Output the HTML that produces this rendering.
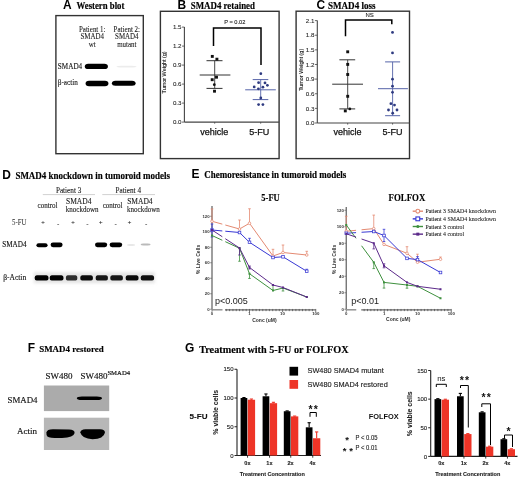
<!DOCTYPE html>
<html><head><meta charset="utf-8"><title>SMAD4 figure</title>
<style>html,body{margin:0;padding:0;background:#fff;} svg{display:block;}</style>
</head><body>
<svg width="520" height="477" viewBox="0 0 520 477"><defs>
<filter id="b1" x="-20%" y="-100%" width="140%" height="300%"><feGaussianBlur stdDeviation="0.7"/></filter>
<filter id="b15" x="-20%" y="-100%" width="140%" height="300%"><feGaussianBlur stdDeviation="0.9"/></filter>
<filter id="b2" x="-20%" y="-100%" width="140%" height="300%"><feGaussianBlur stdDeviation="1.5"/></filter>
</defs><text transform="translate(63.04,9.10) scale(0.920,1)" font-family="'Liberation Sans', Arial, sans-serif" font-size="13.00" font-weight="bold" fill="#000">A</text>
<text transform="translate(76.50,8.60) scale(1,1.1)" font-family="'Liberation Serif', serif" font-size="8.77" font-weight="bold" fill="#000" stroke="#000" stroke-width="0.15">Western blot</text>
<rect x="55.90" y="15.60" width="87.40" height="138.10" fill="none" stroke="#333" stroke-width="1.4" />
<text transform="translate(92.20,31.60) scale(1,1.06)" font-family="'Liberation Serif', serif" font-size="6.95" font-weight="normal" text-anchor="middle" fill="#1a1a1a" stroke="#1a1a1a" stroke-width="0.08" >Patient 1:</text>
<text transform="translate(92.20,39.30) scale(1,1.06)" font-family="'Liberation Serif', serif" font-size="6.95" font-weight="normal" text-anchor="middle" fill="#1a1a1a" stroke="#1a1a1a" stroke-width="0.08" >SMAD4</text>
<text transform="translate(92.20,47.00) scale(1,1.06)" font-family="'Liberation Serif', serif" font-size="6.95" font-weight="normal" text-anchor="middle" fill="#1a1a1a" stroke="#1a1a1a" stroke-width="0.08" >wt</text>
<text transform="translate(126.80,31.60) scale(1,1.06)" font-family="'Liberation Serif', serif" font-size="6.95" font-weight="normal" text-anchor="middle" fill="#1a1a1a" stroke="#1a1a1a" stroke-width="0.08" >Patient 2:</text>
<text transform="translate(126.80,39.30) scale(1,1.06)" font-family="'Liberation Serif', serif" font-size="6.95" font-weight="normal" text-anchor="middle" fill="#1a1a1a" stroke="#1a1a1a" stroke-width="0.08" >SMAD4</text>
<text transform="translate(126.80,47.00) scale(1,1.06)" font-family="'Liberation Serif', serif" font-size="6.95" font-weight="normal" text-anchor="middle" fill="#1a1a1a" stroke="#1a1a1a" stroke-width="0.08" >mutant</text>
<text x="57.80" y="68.80" font-family="'Liberation Serif', serif" font-size="7.2" font-weight="normal" text-anchor="start" fill="#111" stroke="#111" stroke-width="0.1" >SMAD4</text>
<text x="57.80" y="85.30" font-family="'Liberation Serif', serif" font-size="7.2" font-weight="normal" text-anchor="start" fill="#111" stroke="#111" stroke-width="0.1" >β-actin</text>
<rect x="84.80" y="63.70" width="23.10" height="5.40" rx="3.47" ry="2.70" fill="#000" opacity="1" filter="url(#b1)"/>
<rect x="116.50" y="65.80" width="20.00" height="1.80" rx="6.00" ry="0.90" fill="#888" opacity="0.15" filter="url(#b1)"/>
<rect x="85.60" y="80.70" width="22.80" height="5.60" rx="3.42" ry="2.80" fill="#000" opacity="1" filter="url(#b1)"/>
<rect x="111.90" y="80.80" width="23.70" height="5.00" rx="3.55" ry="2.50" fill="#000" opacity="1" filter="url(#b1)"/>
<text transform="translate(177.46,8.90) scale(0.920,1)" font-family="'Liberation Sans', Arial, sans-serif" font-size="13.00" font-weight="bold" fill="#000">B</text>
<text transform="translate(190.80,8.70) scale(1,1.1)" font-family="'Liberation Serif', serif" font-size="8.88" font-weight="bold" fill="#000" stroke="#000" stroke-width="0.15">SMAD4 retained</text>
<rect x="160.40" y="11.30" width="118.70" height="147.30" fill="none" stroke="#333" stroke-width="1.4" />
<line x1="184.40" y1="27.10" x2="184.40" y2="122.10" stroke="#444" stroke-width="1.1" />
<line x1="182.00" y1="122.10" x2="184.40" y2="122.10" stroke="#444" stroke-width="0.8" />
<text x="181.50" y="124.30" font-family="'Liberation Sans', Arial, sans-serif" font-size="6.2" font-weight="normal" text-anchor="end" fill="#222" stroke="#222" stroke-width="0.08" >0.0</text>
<line x1="182.00" y1="103.10" x2="184.40" y2="103.10" stroke="#444" stroke-width="0.8" />
<text x="181.50" y="105.30" font-family="'Liberation Sans', Arial, sans-serif" font-size="6.2" font-weight="normal" text-anchor="end" fill="#222" stroke="#222" stroke-width="0.08" >0.3</text>
<line x1="182.00" y1="84.10" x2="184.40" y2="84.10" stroke="#444" stroke-width="0.8" />
<text x="181.50" y="86.30" font-family="'Liberation Sans', Arial, sans-serif" font-size="6.2" font-weight="normal" text-anchor="end" fill="#222" stroke="#222" stroke-width="0.08" >0.6</text>
<line x1="182.00" y1="65.10" x2="184.40" y2="65.10" stroke="#444" stroke-width="0.8" />
<text x="181.50" y="67.30" font-family="'Liberation Sans', Arial, sans-serif" font-size="6.2" font-weight="normal" text-anchor="end" fill="#222" stroke="#222" stroke-width="0.08" >0.9</text>
<line x1="182.00" y1="46.10" x2="184.40" y2="46.10" stroke="#444" stroke-width="0.8" />
<text x="181.50" y="48.30" font-family="'Liberation Sans', Arial, sans-serif" font-size="6.2" font-weight="normal" text-anchor="end" fill="#222" stroke="#222" stroke-width="0.08" >1.2</text>
<line x1="182.00" y1="27.10" x2="184.40" y2="27.10" stroke="#444" stroke-width="0.8" />
<text x="181.50" y="29.30" font-family="'Liberation Sans', Arial, sans-serif" font-size="6.2" font-weight="normal" text-anchor="end" fill="#222" stroke="#222" stroke-width="0.08" >1.5</text>
<line x1="184.40" y1="122.10" x2="279.10" y2="122.10" stroke="#444" stroke-width="1.1" />
<line x1="214.70" y1="122.10" x2="214.70" y2="123.70" stroke="#444" stroke-width="0.8" />
<text x="214.20" y="135.30" font-family="'Liberation Sans', Arial, sans-serif" font-size="9" font-weight="normal" text-anchor="middle" fill="#111" stroke="#111" stroke-width="0.25" >vehicle</text>
<line x1="260.70" y1="122.10" x2="260.70" y2="123.70" stroke="#444" stroke-width="0.8" />
<text x="259.20" y="135.30" font-family="'Liberation Sans', Arial, sans-serif" font-size="9" font-weight="normal" text-anchor="middle" fill="#111" stroke="#111" stroke-width="0.25" >5-FU</text>
<text transform="translate(166.00,72.40) rotate(-90)" x="0" y="0" font-family="'Liberation Sans', Arial, sans-serif" font-size="5.45" text-anchor="middle" fill="#111" stroke="#111" stroke-width="0.08">Tumor Weight (g)</text>
<path d="M213.5,46 V28.1 H261.0 V65" fill="none" stroke="#000" stroke-width="1.5"/>
<text x="234.80" y="23.90" font-family="'Liberation Sans', Arial, sans-serif" font-size="5.7" font-weight="normal" text-anchor="middle" fill="#222" stroke="#222" stroke-width="0.1" >P = 0.02</text>
<line x1="214.70" y1="60.70" x2="214.70" y2="88.40" stroke="#333" stroke-width="0.9" />
<line x1="199.70" y1="75.00" x2="230.40" y2="75.00" stroke="#333" stroke-width="1.0" />
<line x1="206.50" y1="60.70" x2="222.50" y2="60.70" stroke="#333" stroke-width="1.0" />
<line x1="206.50" y1="88.40" x2="222.50" y2="88.40" stroke="#333" stroke-width="1.0" />
<rect x="210.85" y="54.95" width="2.90" height="2.90" fill="#111" stroke="none" stroke-width="1" />
<rect x="215.45" y="57.75" width="2.90" height="2.90" fill="#111" stroke="none" stroke-width="1" />
<rect x="215.05" y="75.75" width="2.90" height="2.90" fill="#111" stroke="none" stroke-width="1" />
<rect x="210.75" y="78.25" width="2.90" height="2.90" fill="#111" stroke="none" stroke-width="1" />
<circle cx="214.30" cy="84.70" r="1.4" fill="#111"/>
<rect x="213.05" y="89.75" width="2.90" height="2.90" fill="#111" stroke="none" stroke-width="1" />
<line x1="260.70" y1="79.60" x2="260.70" y2="99.60" stroke="#5563a8" stroke-width="0.9" />
<line x1="245.20" y1="89.80" x2="275.80" y2="89.80" stroke="#5563a8" stroke-width="1.0" />
<line x1="252.70" y1="79.60" x2="268.30" y2="79.60" stroke="#5563a8" stroke-width="1.0" />
<line x1="252.70" y1="99.60" x2="268.30" y2="99.60" stroke="#5563a8" stroke-width="1.0" />
<circle cx="260.80" cy="73.70" r="1.4" fill="#2e3a80"/>
<circle cx="258.60" cy="82.70" r="1.4" fill="#2e3a80"/>
<circle cx="265.00" cy="82.90" r="1.4" fill="#2e3a80"/>
<circle cx="267.40" cy="85.30" r="1.4" fill="#2e3a80"/>
<circle cx="254.20" cy="86.90" r="1.4" fill="#2e3a80"/>
<circle cx="262.90" cy="87.20" r="1.4" fill="#2e3a80"/>
<circle cx="258.40" cy="88.80" r="1.4" fill="#2e3a80"/>
<circle cx="260.80" cy="98.00" r="1.4" fill="#2e3a80"/>
<circle cx="258.60" cy="104.60" r="1.4" fill="#2e3a80"/>
<circle cx="262.90" cy="104.60" r="1.4" fill="#2e3a80"/>
<text transform="translate(316.62,9.00) scale(0.920,1)" font-family="'Liberation Sans', Arial, sans-serif" font-size="13.00" font-weight="bold" fill="#000">C</text>
<text transform="translate(328.00,8.50) scale(1,1.1)" font-family="'Liberation Serif', serif" font-size="9.07" font-weight="bold" fill="#000" stroke="#000" stroke-width="0.15">SMAD4 loss</text>
<rect x="296.10" y="11.20" width="113.40" height="147.40" fill="none" stroke="#333" stroke-width="1.4" />
<line x1="317.30" y1="20.60" x2="317.30" y2="123.00" stroke="#444" stroke-width="1.1" />
<line x1="314.90" y1="123.00" x2="317.30" y2="123.00" stroke="#444" stroke-width="0.8" />
<text x="314.40" y="125.20" font-family="'Liberation Sans', Arial, sans-serif" font-size="6.2" font-weight="normal" text-anchor="end" fill="#222" stroke="#222" stroke-width="0.08" >0.0</text>
<line x1="314.90" y1="108.37" x2="317.30" y2="108.37" stroke="#444" stroke-width="0.8" />
<text x="314.40" y="110.57" font-family="'Liberation Sans', Arial, sans-serif" font-size="6.2" font-weight="normal" text-anchor="end" fill="#222" stroke="#222" stroke-width="0.08" >0.3</text>
<line x1="314.90" y1="93.74" x2="317.30" y2="93.74" stroke="#444" stroke-width="0.8" />
<text x="314.40" y="95.94" font-family="'Liberation Sans', Arial, sans-serif" font-size="6.2" font-weight="normal" text-anchor="end" fill="#222" stroke="#222" stroke-width="0.08" >0.6</text>
<line x1="314.90" y1="79.11" x2="317.30" y2="79.11" stroke="#444" stroke-width="0.8" />
<text x="314.40" y="81.31" font-family="'Liberation Sans', Arial, sans-serif" font-size="6.2" font-weight="normal" text-anchor="end" fill="#222" stroke="#222" stroke-width="0.08" >0.9</text>
<line x1="314.90" y1="64.49" x2="317.30" y2="64.49" stroke="#444" stroke-width="0.8" />
<text x="314.40" y="66.69" font-family="'Liberation Sans', Arial, sans-serif" font-size="6.2" font-weight="normal" text-anchor="end" fill="#222" stroke="#222" stroke-width="0.08" >1.2</text>
<line x1="314.90" y1="49.86" x2="317.30" y2="49.86" stroke="#444" stroke-width="0.8" />
<text x="314.40" y="52.06" font-family="'Liberation Sans', Arial, sans-serif" font-size="6.2" font-weight="normal" text-anchor="end" fill="#222" stroke="#222" stroke-width="0.08" >1.5</text>
<line x1="314.90" y1="35.23" x2="317.30" y2="35.23" stroke="#444" stroke-width="0.8" />
<text x="314.40" y="37.43" font-family="'Liberation Sans', Arial, sans-serif" font-size="6.2" font-weight="normal" text-anchor="end" fill="#222" stroke="#222" stroke-width="0.08" >1.8</text>
<line x1="314.90" y1="20.60" x2="317.30" y2="20.60" stroke="#444" stroke-width="0.8" />
<text x="314.40" y="22.80" font-family="'Liberation Sans', Arial, sans-serif" font-size="6.2" font-weight="normal" text-anchor="end" fill="#222" stroke="#222" stroke-width="0.08" >2.1</text>
<line x1="317.30" y1="123.00" x2="409.50" y2="123.00" stroke="#444" stroke-width="1.1" />
<line x1="347.70" y1="123.00" x2="347.70" y2="124.60" stroke="#444" stroke-width="0.8" />
<text x="347.50" y="135.30" font-family="'Liberation Sans', Arial, sans-serif" font-size="9" font-weight="normal" text-anchor="middle" fill="#111" stroke="#111" stroke-width="0.25" >vehicle</text>
<line x1="392.60" y1="123.00" x2="392.60" y2="124.60" stroke="#444" stroke-width="0.8" />
<text x="392.60" y="135.30" font-family="'Liberation Sans', Arial, sans-serif" font-size="9" font-weight="normal" text-anchor="middle" fill="#111" stroke="#111" stroke-width="0.25" >5-FU</text>
<text transform="translate(302.70,69.80) rotate(-90)" x="0" y="0" font-family="'Liberation Sans', Arial, sans-serif" font-size="5.45" text-anchor="middle" fill="#111" stroke="#111" stroke-width="0.08">Tumor Weight (g)</text>
<path d="M345.5,36.3 V20.0 H391.8 V24.3" fill="none" stroke="#000" stroke-width="1.5"/>
<text x="369.70" y="17.10" font-family="'Liberation Sans', Arial, sans-serif" font-size="6.0" font-weight="normal" text-anchor="middle" fill="#222" stroke="#222" stroke-width="0.1" >NS</text>
<line x1="347.70" y1="59.80" x2="347.70" y2="108.90" stroke="#333" stroke-width="0.9" />
<line x1="332.20" y1="84.20" x2="363.00" y2="84.20" stroke="#333" stroke-width="1.0" />
<line x1="339.40" y1="59.80" x2="355.20" y2="59.80" stroke="#333" stroke-width="1.0" />
<line x1="339.40" y1="108.90" x2="355.20" y2="108.90" stroke="#333" stroke-width="1.0" />
<rect x="346.25" y="50.35" width="2.90" height="2.90" fill="#111" stroke="none" stroke-width="1" />
<rect x="346.25" y="62.95" width="2.90" height="2.90" fill="#111" stroke="none" stroke-width="1" />
<rect x="346.25" y="73.05" width="2.90" height="2.90" fill="#111" stroke="none" stroke-width="1" />
<rect x="346.25" y="94.85" width="2.90" height="2.90" fill="#111" stroke="none" stroke-width="1" />
<rect x="343.85" y="109.45" width="2.90" height="2.90" fill="#111" stroke="none" stroke-width="1" />
<circle cx="349.80" cy="108.90" r="1.4" fill="#111"/>
<line x1="392.60" y1="61.90" x2="392.60" y2="115.70" stroke="#5563a8" stroke-width="0.9" />
<line x1="378.00" y1="88.70" x2="407.90" y2="88.70" stroke="#5563a8" stroke-width="1.0" />
<line x1="385.10" y1="61.90" x2="400.10" y2="61.90" stroke="#5563a8" stroke-width="1.0" />
<line x1="385.10" y1="115.70" x2="400.10" y2="115.70" stroke="#5563a8" stroke-width="1.0" />
<circle cx="392.50" cy="32.40" r="1.4" fill="#2e3a80"/>
<circle cx="392.50" cy="52.90" r="1.4" fill="#2e3a80"/>
<circle cx="392.50" cy="79.20" r="1.4" fill="#2e3a80"/>
<circle cx="392.50" cy="86.20" r="1.4" fill="#2e3a80"/>
<circle cx="392.50" cy="92.30" r="1.4" fill="#2e3a80"/>
<circle cx="390.90" cy="103.70" r="1.4" fill="#2e3a80"/>
<circle cx="394.50" cy="105.10" r="1.4" fill="#2e3a80"/>
<circle cx="388.50" cy="110.00" r="1.4" fill="#2e3a80"/>
<circle cx="397.00" cy="110.00" r="1.4" fill="#2e3a80"/>
<circle cx="392.70" cy="113.20" r="1.4" fill="#2e3a80"/>
<text transform="translate(2.36,178.60) scale(0.920,1)" font-family="'Liberation Sans', Arial, sans-serif" font-size="13.00" font-weight="bold" fill="#000">D</text>
<text transform="translate(15.40,178.50) scale(1,1.1)" font-family="'Liberation Serif', serif" font-size="8.99" font-weight="bold" fill="#000" stroke="#000" stroke-width="0.15">SMAD4 knockdown in tumoroid models</text>
<text transform="translate(68.60,192.80) scale(1,1.06)" font-family="'Liberation Serif', serif" font-size="7.2" font-weight="normal" text-anchor="middle" fill="#1a1a1a" stroke="#1a1a1a" stroke-width="0.1" >Patient 3</text>
<text transform="translate(128.30,192.80) scale(1,1.06)" font-family="'Liberation Serif', serif" font-size="7.2" font-weight="normal" text-anchor="middle" fill="#1a1a1a" stroke="#1a1a1a" stroke-width="0.1" >Patient 4</text>
<line x1="42.80" y1="194.60" x2="95.00" y2="194.60" stroke="#c4c4c4" stroke-width="0.8" />
<line x1="102.30" y1="194.60" x2="155.00" y2="194.60" stroke="#c4c4c4" stroke-width="0.8" />
<text transform="translate(47.50,208.30) scale(1,1.06)" font-family="'Liberation Serif', serif" font-size="7.05" font-weight="normal" text-anchor="middle" fill="#1a1a1a" stroke="#1a1a1a" stroke-width="0.1" >control</text>
<text x="66.00" y="204.40" font-family="'Liberation Serif', serif" font-size="7.5" font-weight="normal" text-anchor="start" fill="#1a1a1a" stroke="#1a1a1a" stroke-width="0.1" >SMAD4</text>
<text transform="translate(65.80,212.30) scale(1,1.06)" font-family="'Liberation Serif', serif" font-size="7.05" font-weight="normal" text-anchor="start" fill="#1a1a1a" stroke="#1a1a1a" stroke-width="0.1" >knockdown</text>
<text transform="translate(112.60,208.30) scale(1,1.06)" font-family="'Liberation Serif', serif" font-size="7.05" font-weight="normal" text-anchor="middle" fill="#1a1a1a" stroke="#1a1a1a" stroke-width="0.1" >control</text>
<text x="127.20" y="204.40" font-family="'Liberation Serif', serif" font-size="7.5" font-weight="normal" text-anchor="start" fill="#1a1a1a" stroke="#1a1a1a" stroke-width="0.1" >SMAD4</text>
<text transform="translate(127.00,212.30) scale(1,1.06)" font-family="'Liberation Serif', serif" font-size="7.05" font-weight="normal" text-anchor="start" fill="#1a1a1a" stroke="#1a1a1a" stroke-width="0.1" >knockdown</text>
<text transform="translate(12.00,224.60) scale(1,1.15)" font-family="'Liberation Serif', serif" font-size="6.8" font-weight="normal" text-anchor="start" fill="#333" stroke="#333" stroke-width="0.05" >5-FU</text>
<text x="43.00" y="225.00" font-family="'Liberation Serif', serif" font-size="7.0" font-weight="bold" text-anchor="middle" fill="#1a1a1a" >+</text>
<text x="58.25" y="225.80" font-family="'Liberation Serif', serif" font-size="7.0" font-weight="bold" text-anchor="middle" fill="#1a1a1a" >-</text>
<text x="73.00" y="225.00" font-family="'Liberation Serif', serif" font-size="7.0" font-weight="bold" text-anchor="middle" fill="#1a1a1a" >+</text>
<text x="87.50" y="225.80" font-family="'Liberation Serif', serif" font-size="7.0" font-weight="bold" text-anchor="middle" fill="#1a1a1a" >-</text>
<text x="100.75" y="225.00" font-family="'Liberation Serif', serif" font-size="7.0" font-weight="bold" text-anchor="middle" fill="#1a1a1a" >+</text>
<text x="115.75" y="225.80" font-family="'Liberation Serif', serif" font-size="7.0" font-weight="bold" text-anchor="middle" fill="#1a1a1a" >-</text>
<text x="129.50" y="225.00" font-family="'Liberation Serif', serif" font-size="7.0" font-weight="bold" text-anchor="middle" fill="#1a1a1a" >+</text>
<text x="146.25" y="225.80" font-family="'Liberation Serif', serif" font-size="7.0" font-weight="bold" text-anchor="middle" fill="#1a1a1a" >-</text>
<text x="2.20" y="246.80" font-family="'Liberation Serif', serif" font-size="7.2" font-weight="normal" text-anchor="start" fill="#111" stroke="#111" stroke-width="0.12" >SMAD4</text>
<text x="3.20" y="280.20" font-family="'Liberation Serif', serif" font-size="7.5" font-weight="normal" text-anchor="start" fill="#111" stroke="#111" stroke-width="0.12" >β-Actin</text>
<rect x="36.40" y="243.30" width="11.20" height="4.00" rx="2.24" ry="2.00" fill="#000" opacity="1" filter="url(#b1)"/>
<rect x="50.60" y="242.40" width="12.00" height="4.80" rx="2.40" ry="2.40" fill="#000" opacity="1" filter="url(#b1)"/>
<rect x="95.00" y="242.40" width="12.20" height="4.80" rx="2.44" ry="2.40" fill="#000" opacity="1" filter="url(#b1)"/>
<rect x="109.60" y="242.40" width="12.60" height="4.80" rx="2.52" ry="2.40" fill="#000" opacity="1" filter="url(#b1)"/>
<rect x="127.00" y="244.30" width="8.20" height="1.40" rx="2.46" ry="0.70" fill="#777" opacity="0.22" filter="url(#b1)"/>
<rect x="140.60" y="243.50" width="10.00" height="2.00" rx="3.00" ry="1.00" fill="#777" opacity="0.5" filter="url(#b1)"/>
<rect x="33.8" y="272.2" width="121" height="11" fill="#cfcfcf" opacity="0.55" filter="url(#b2)"/>
<rect x="34.60" y="275.30" width="14.00" height="5.20" rx="2.10" ry="2.60" fill="#000" opacity="1" filter="url(#b1)"/>
<rect x="49.60" y="275.30" width="14.00" height="5.20" rx="2.10" ry="2.60" fill="#000" opacity="1" filter="url(#b1)"/>
<rect x="65.80" y="275.30" width="11.60" height="5.20" rx="1.74" ry="2.60" fill="#000" opacity="0.8" filter="url(#b1)"/>
<rect x="80.20" y="275.30" width="12.80" height="5.20" rx="1.92" ry="2.60" fill="#000" opacity="0.95" filter="url(#b1)"/>
<rect x="95.60" y="275.30" width="12.40" height="5.20" rx="1.86" ry="2.60" fill="#000" opacity="0.9" filter="url(#b1)"/>
<rect x="110.20" y="275.30" width="12.80" height="5.20" rx="1.92" ry="2.60" fill="#000" opacity="0.9" filter="url(#b1)"/>
<rect x="125.60" y="275.30" width="13.00" height="5.20" rx="1.95" ry="2.60" fill="#000" opacity="0.95" filter="url(#b1)"/>
<rect x="140.60" y="275.30" width="13.60" height="5.20" rx="2.04" ry="2.60" fill="#000" opacity="0.93" filter="url(#b1)"/>
<text transform="translate(191.46,177.60) scale(0.920,1)" font-family="'Liberation Sans', Arial, sans-serif" font-size="13.00" font-weight="bold" fill="#000">E</text>
<text transform="translate(204.20,177.60) scale(1,1.1)" font-family="'Liberation Serif', serif" font-size="8.99" font-weight="bold" fill="#000" stroke="#000" stroke-width="0.15">Chemoresistance in tumoroid models</text>
<line x1="212.00" y1="206.00" x2="212.00" y2="309.25" stroke="#6a6a6a" stroke-width="1.3" />
<line x1="210.20" y1="309.25" x2="212.00" y2="309.25" stroke="#6a6a6a" stroke-width="0.8" />
<text x="209.60" y="310.75" font-family="'Liberation Sans', Arial, sans-serif" font-size="4.3" font-weight="bold" text-anchor="end" fill="#333" >0</text>
<line x1="210.20" y1="293.75" x2="212.00" y2="293.75" stroke="#6a6a6a" stroke-width="0.8" />
<text x="209.60" y="295.25" font-family="'Liberation Sans', Arial, sans-serif" font-size="4.3" font-weight="bold" text-anchor="end" fill="#333" >20</text>
<line x1="210.20" y1="278.25" x2="212.00" y2="278.25" stroke="#6a6a6a" stroke-width="0.8" />
<text x="209.60" y="279.75" font-family="'Liberation Sans', Arial, sans-serif" font-size="4.3" font-weight="bold" text-anchor="end" fill="#333" >40</text>
<line x1="210.20" y1="262.75" x2="212.00" y2="262.75" stroke="#6a6a6a" stroke-width="0.8" />
<text x="209.60" y="264.25" font-family="'Liberation Sans', Arial, sans-serif" font-size="4.3" font-weight="bold" text-anchor="end" fill="#333" >60</text>
<line x1="210.20" y1="247.25" x2="212.00" y2="247.25" stroke="#6a6a6a" stroke-width="0.8" />
<text x="209.60" y="248.75" font-family="'Liberation Sans', Arial, sans-serif" font-size="4.3" font-weight="bold" text-anchor="end" fill="#333" >80</text>
<line x1="210.20" y1="231.75" x2="212.00" y2="231.75" stroke="#6a6a6a" stroke-width="0.8" />
<text x="209.60" y="233.25" font-family="'Liberation Sans', Arial, sans-serif" font-size="4.3" font-weight="bold" text-anchor="end" fill="#333" >100</text>
<line x1="210.20" y1="216.25" x2="212.00" y2="216.25" stroke="#6a6a6a" stroke-width="0.8" />
<text x="209.60" y="217.75" font-family="'Liberation Sans', Arial, sans-serif" font-size="4.3" font-weight="bold" text-anchor="end" fill="#333" >120</text>
<line x1="212.00" y1="309.85" x2="222.50" y2="309.85" stroke="#6a6a6a" stroke-width="1.1" />
<line x1="225.00" y1="309.85" x2="315.75" y2="309.85" stroke="#6a6a6a" stroke-width="1.1" />
<line x1="226.31" y1="308.95" x2="226.31" y2="311.15" stroke="#555" stroke-width="0.8" />
<line x1="229.62" y1="308.95" x2="229.62" y2="311.15" stroke="#555" stroke-width="0.8" />
<line x1="232.94" y1="308.95" x2="232.94" y2="311.15" stroke="#555" stroke-width="0.8" />
<line x1="236.25" y1="308.95" x2="236.25" y2="311.15" stroke="#555" stroke-width="0.8" />
<line x1="239.56" y1="308.95" x2="239.56" y2="311.15" stroke="#555" stroke-width="0.8" />
<line x1="242.88" y1="308.95" x2="242.88" y2="311.15" stroke="#555" stroke-width="0.8" />
<line x1="246.19" y1="308.95" x2="246.19" y2="311.15" stroke="#555" stroke-width="0.8" />
<line x1="249.50" y1="308.95" x2="249.50" y2="312.05" stroke="#555" stroke-width="0.8" />
<line x1="252.81" y1="308.95" x2="252.81" y2="311.15" stroke="#555" stroke-width="0.8" />
<line x1="256.12" y1="308.95" x2="256.12" y2="311.15" stroke="#555" stroke-width="0.8" />
<line x1="259.44" y1="308.95" x2="259.44" y2="311.15" stroke="#555" stroke-width="0.8" />
<line x1="262.75" y1="308.95" x2="262.75" y2="311.15" stroke="#555" stroke-width="0.8" />
<line x1="266.06" y1="308.95" x2="266.06" y2="311.15" stroke="#555" stroke-width="0.8" />
<line x1="269.38" y1="308.95" x2="269.38" y2="311.15" stroke="#555" stroke-width="0.8" />
<line x1="272.69" y1="308.95" x2="272.69" y2="311.15" stroke="#555" stroke-width="0.8" />
<line x1="276.00" y1="308.95" x2="276.00" y2="311.15" stroke="#555" stroke-width="0.8" />
<line x1="279.31" y1="308.95" x2="279.31" y2="311.15" stroke="#555" stroke-width="0.8" />
<line x1="282.62" y1="308.95" x2="282.62" y2="312.05" stroke="#555" stroke-width="0.8" />
<line x1="285.94" y1="308.95" x2="285.94" y2="311.15" stroke="#555" stroke-width="0.8" />
<line x1="289.25" y1="308.95" x2="289.25" y2="311.15" stroke="#555" stroke-width="0.8" />
<line x1="292.56" y1="308.95" x2="292.56" y2="311.15" stroke="#555" stroke-width="0.8" />
<line x1="295.88" y1="308.95" x2="295.88" y2="311.15" stroke="#555" stroke-width="0.8" />
<line x1="299.19" y1="308.95" x2="299.19" y2="311.15" stroke="#555" stroke-width="0.8" />
<line x1="302.50" y1="308.95" x2="302.50" y2="311.15" stroke="#555" stroke-width="0.8" />
<line x1="305.81" y1="308.95" x2="305.81" y2="311.15" stroke="#555" stroke-width="0.8" />
<line x1="309.12" y1="308.95" x2="309.12" y2="311.15" stroke="#555" stroke-width="0.8" />
<line x1="312.44" y1="308.95" x2="312.44" y2="311.15" stroke="#555" stroke-width="0.8" />
<line x1="315.75" y1="308.95" x2="315.75" y2="312.05" stroke="#555" stroke-width="0.8" />
<line x1="212.00" y1="309.85" x2="212.00" y2="311.85" stroke="#6a6a6a" stroke-width="0.8" />
<text x="212.00" y="315.30" font-family="'Liberation Sans', Arial, sans-serif" font-size="4.3" font-weight="bold" text-anchor="middle" fill="#333" >0</text>
<text x="249.50" y="315.30" font-family="'Liberation Sans', Arial, sans-serif" font-size="4.3" font-weight="bold" text-anchor="middle" fill="#333" >1</text>
<text x="282.50" y="315.30" font-family="'Liberation Sans', Arial, sans-serif" font-size="4.3" font-weight="bold" text-anchor="middle" fill="#333" >10</text>
<text x="315.75" y="315.30" font-family="'Liberation Sans', Arial, sans-serif" font-size="4.3" font-weight="bold" text-anchor="middle" fill="#333" >100</text>
<text x="264.40" y="322.20" font-family="'Liberation Sans', Arial, sans-serif" font-size="5.0" font-weight="bold" text-anchor="middle" fill="#333" >Conc (uM)</text>
<text transform="translate(200.40,259.40) rotate(-90)" x="0" y="0" font-family="'Liberation Sans', Arial, sans-serif" font-size="5.0" font-weight="bold" text-anchor="middle" fill="#333">% Live Cells</text>
<text transform="translate(270.50,201.00) scale(1,1.12)" font-family="'Liberation Serif', serif" font-size="8.5" font-weight="bold" text-anchor="middle" fill="#000" stroke="#000" stroke-width="0.12" >5-FU</text>
<text x="215.00" y="303.90" font-family="'Liberation Sans', Arial, sans-serif" font-size="9.0" font-weight="normal" text-anchor="start" fill="#222" >p&lt;0.005</text>
<line x1="212.00" y1="221.25" x2="212.00" y2="208.95" stroke="#e48a72" stroke-width="0.8" />
<line x1="210.70" y1="208.95" x2="213.30" y2="208.95" stroke="#e48a72" stroke-width="0.8" />
<line x1="239.50" y1="229.00" x2="239.50" y2="220.00" stroke="#e48a72" stroke-width="0.8" />
<line x1="238.20" y1="220.00" x2="240.80" y2="220.00" stroke="#e48a72" stroke-width="0.8" />
<line x1="249.50" y1="223.25" x2="249.50" y2="208.75" stroke="#e48a72" stroke-width="0.8" />
<line x1="248.20" y1="208.75" x2="250.80" y2="208.75" stroke="#e48a72" stroke-width="0.8" />
<line x1="273.00" y1="256.00" x2="273.00" y2="249.30" stroke="#e48a72" stroke-width="0.8" />
<line x1="271.70" y1="249.30" x2="274.30" y2="249.30" stroke="#e48a72" stroke-width="0.8" />
<line x1="283.00" y1="252.50" x2="283.00" y2="245.00" stroke="#e48a72" stroke-width="0.8" />
<line x1="281.70" y1="245.00" x2="284.30" y2="245.00" stroke="#e48a72" stroke-width="0.8" />
<line x1="306.75" y1="255.00" x2="306.75" y2="251.30" stroke="#e48a72" stroke-width="0.8" />
<line x1="305.45" y1="251.30" x2="308.05" y2="251.30" stroke="#e48a72" stroke-width="0.8" />
<path d="M212.00,221.25 L222.30,224.15 M225.30,225.00 L239.50,229.00" fill="none" stroke="#e48a72" stroke-width="1.0"/>
<path d="M239.50,229.00 L249.50,223.25 L273.00,256.00 L283.00,252.50 L306.75,255.00" fill="none" stroke="#e48a72" stroke-width="1.0"/>
<circle cx="212" cy="221.25" r="1.3" fill="white" stroke="#e48a72" stroke-width="0.75"/>
<circle cx="239.5" cy="229" r="1.3" fill="white" stroke="#e48a72" stroke-width="0.75"/>
<circle cx="249.5" cy="223.25" r="1.3" fill="white" stroke="#e48a72" stroke-width="0.75"/>
<circle cx="273" cy="256" r="1.3" fill="white" stroke="#e48a72" stroke-width="0.75"/>
<circle cx="283" cy="252.5" r="1.3" fill="white" stroke="#e48a72" stroke-width="0.75"/>
<circle cx="306.75" cy="255" r="1.3" fill="white" stroke="#e48a72" stroke-width="0.75"/>
<line x1="212.00" y1="230.00" x2="212.00" y2="224.00" stroke="#3838d4" stroke-width="0.8" />
<line x1="210.70" y1="224.00" x2="213.30" y2="224.00" stroke="#3838d4" stroke-width="0.8" />
<line x1="212.00" y1="230.00" x2="212.00" y2="237.00" stroke="#3838d4" stroke-width="0.8" />
<line x1="210.70" y1="237.00" x2="213.30" y2="237.00" stroke="#3838d4" stroke-width="0.8" />
<line x1="249.50" y1="242.30" x2="249.50" y2="238.30" stroke="#3838d4" stroke-width="0.8" />
<line x1="248.20" y1="238.30" x2="250.80" y2="238.30" stroke="#3838d4" stroke-width="0.8" />
<line x1="306.75" y1="271.25" x2="306.75" y2="269.25" stroke="#3838d4" stroke-width="0.8" />
<line x1="305.45" y1="269.25" x2="308.05" y2="269.25" stroke="#3838d4" stroke-width="0.8" />
<path d="M212.00,230.00 L222.30,230.94 M225.30,231.21 L239.50,232.50" fill="none" stroke="#3838d4" stroke-width="1.0"/>
<path d="M239.50,232.50 L249.50,242.30 L273.00,257.50 L283.00,256.80 L306.75,271.25" fill="none" stroke="#3838d4" stroke-width="1.0"/>
<rect x="210.70" y="228.70" width="2.60" height="2.60" fill="white" stroke="#3838d4" stroke-width="0.75" />
<rect x="238.20" y="231.20" width="2.60" height="2.60" fill="white" stroke="#3838d4" stroke-width="0.75" />
<rect x="248.20" y="241.00" width="2.60" height="2.60" fill="white" stroke="#3838d4" stroke-width="0.75" />
<rect x="271.70" y="256.20" width="2.60" height="2.60" fill="white" stroke="#3838d4" stroke-width="0.75" />
<rect x="281.70" y="255.50" width="2.60" height="2.60" fill="white" stroke="#3838d4" stroke-width="0.75" />
<rect x="305.45" y="269.95" width="2.60" height="2.60" fill="white" stroke="#3838d4" stroke-width="0.75" />
<line x1="239.50" y1="248.25" x2="239.50" y2="261.25" stroke="#3e903e" stroke-width="0.8" />
<line x1="238.20" y1="261.25" x2="240.80" y2="261.25" stroke="#3e903e" stroke-width="0.8" />
<line x1="249.50" y1="273.75" x2="249.50" y2="278.45" stroke="#3e903e" stroke-width="0.8" />
<line x1="248.20" y1="278.45" x2="250.80" y2="278.45" stroke="#3e903e" stroke-width="0.8" />
<line x1="273.00" y1="290.50" x2="273.00" y2="285.50" stroke="#3e903e" stroke-width="0.8" />
<line x1="271.70" y1="285.50" x2="274.30" y2="285.50" stroke="#3e903e" stroke-width="0.8" />
<line x1="283.00" y1="288.00" x2="283.00" y2="291.00" stroke="#3e903e" stroke-width="0.8" />
<line x1="281.70" y1="291.00" x2="284.30" y2="291.00" stroke="#3e903e" stroke-width="0.8" />
<path d="M212.00,235.50 L222.30,240.28 M225.30,241.67 L239.50,248.25" fill="none" stroke="#3e903e" stroke-width="1.0"/>
<path d="M239.50,248.25 L249.50,273.75 L273.00,290.50 L283.00,288.00 L306.75,297.00" fill="none" stroke="#3e903e" stroke-width="1.0"/>
<rect x="211.00" y="234.50" width="2.00" height="2.00" fill="#3e903e" stroke="none" stroke-width="1" />
<rect x="238.50" y="247.25" width="2.00" height="2.00" fill="#3e903e" stroke="none" stroke-width="1" />
<rect x="248.50" y="272.75" width="2.00" height="2.00" fill="#3e903e" stroke="none" stroke-width="1" />
<rect x="272.00" y="289.50" width="2.00" height="2.00" fill="#3e903e" stroke="none" stroke-width="1" />
<rect x="282.00" y="287.00" width="2.00" height="2.00" fill="#3e903e" stroke="none" stroke-width="1" />
<rect x="305.75" y="296.00" width="2.00" height="2.00" fill="#3e903e" stroke="none" stroke-width="1" />
<line x1="239.50" y1="248.00" x2="239.50" y2="255.00" stroke="#5c2a8a" stroke-width="0.8" />
<line x1="238.20" y1="255.00" x2="240.80" y2="255.00" stroke="#5c2a8a" stroke-width="0.8" />
<line x1="249.50" y1="267.50" x2="249.50" y2="266.00" stroke="#5c2a8a" stroke-width="0.8" />
<line x1="248.20" y1="266.00" x2="250.80" y2="266.00" stroke="#5c2a8a" stroke-width="0.8" />
<line x1="249.50" y1="267.50" x2="249.50" y2="269.00" stroke="#5c2a8a" stroke-width="0.8" />
<line x1="248.20" y1="269.00" x2="250.80" y2="269.00" stroke="#5c2a8a" stroke-width="0.8" />
<path d="M212.00,230.00 L222.30,236.74 M225.30,238.71 L239.50,248.00" fill="none" stroke="#5c2a8a" stroke-width="1.0"/>
<path d="M239.50,248.00 L249.50,267.50 L273.00,285.00 L283.00,287.50 L306.75,297.00" fill="none" stroke="#5c2a8a" stroke-width="1.0"/>
<rect x="211.00" y="229.00" width="2.00" height="2.00" fill="#5c2a8a" stroke="none" stroke-width="1" />
<rect x="238.50" y="247.00" width="2.00" height="2.00" fill="#5c2a8a" stroke="none" stroke-width="1" />
<rect x="248.50" y="266.50" width="2.00" height="2.00" fill="#5c2a8a" stroke="none" stroke-width="1" />
<rect x="272.00" y="284.00" width="2.00" height="2.00" fill="#5c2a8a" stroke="none" stroke-width="1" />
<rect x="282.00" y="286.50" width="2.00" height="2.00" fill="#5c2a8a" stroke="none" stroke-width="1" />
<rect x="305.75" y="296.00" width="2.00" height="2.00" fill="#5c2a8a" stroke="none" stroke-width="1" />
<line x1="346.25" y1="207.00" x2="346.25" y2="309.25" stroke="#6a6a6a" stroke-width="1.3" />
<line x1="344.45" y1="309.25" x2="346.25" y2="309.25" stroke="#6a6a6a" stroke-width="0.8" />
<text x="343.85" y="310.75" font-family="'Liberation Sans', Arial, sans-serif" font-size="4.3" font-weight="bold" text-anchor="end" fill="#333" >0</text>
<line x1="344.45" y1="292.75" x2="346.25" y2="292.75" stroke="#6a6a6a" stroke-width="0.8" />
<text x="343.85" y="294.25" font-family="'Liberation Sans', Arial, sans-serif" font-size="4.3" font-weight="bold" text-anchor="end" fill="#333" >20</text>
<line x1="344.45" y1="276.25" x2="346.25" y2="276.25" stroke="#6a6a6a" stroke-width="0.8" />
<text x="343.85" y="277.75" font-family="'Liberation Sans', Arial, sans-serif" font-size="4.3" font-weight="bold" text-anchor="end" fill="#333" >40</text>
<line x1="344.45" y1="259.75" x2="346.25" y2="259.75" stroke="#6a6a6a" stroke-width="0.8" />
<text x="343.85" y="261.25" font-family="'Liberation Sans', Arial, sans-serif" font-size="4.3" font-weight="bold" text-anchor="end" fill="#333" >60</text>
<line x1="344.45" y1="243.25" x2="346.25" y2="243.25" stroke="#6a6a6a" stroke-width="0.8" />
<text x="343.85" y="244.75" font-family="'Liberation Sans', Arial, sans-serif" font-size="4.3" font-weight="bold" text-anchor="end" fill="#333" >80</text>
<line x1="344.45" y1="226.75" x2="346.25" y2="226.75" stroke="#6a6a6a" stroke-width="0.8" />
<text x="343.85" y="228.25" font-family="'Liberation Sans', Arial, sans-serif" font-size="4.3" font-weight="bold" text-anchor="end" fill="#333" >100</text>
<line x1="344.45" y1="210.25" x2="346.25" y2="210.25" stroke="#6a6a6a" stroke-width="0.8" />
<text x="343.85" y="211.75" font-family="'Liberation Sans', Arial, sans-serif" font-size="4.3" font-weight="bold" text-anchor="end" fill="#333" >120</text>
<line x1="346.25" y1="309.85" x2="356.25" y2="309.85" stroke="#6a6a6a" stroke-width="1.1" />
<line x1="361.25" y1="309.85" x2="451.25" y2="309.85" stroke="#6a6a6a" stroke-width="1.1" />
<line x1="364.15" y1="308.95" x2="364.15" y2="311.15" stroke="#555" stroke-width="0.8" />
<line x1="367.50" y1="308.95" x2="367.50" y2="311.15" stroke="#555" stroke-width="0.8" />
<line x1="370.85" y1="308.95" x2="370.85" y2="311.15" stroke="#555" stroke-width="0.8" />
<line x1="374.20" y1="308.95" x2="374.20" y2="311.15" stroke="#555" stroke-width="0.8" />
<line x1="377.55" y1="308.95" x2="377.55" y2="311.15" stroke="#555" stroke-width="0.8" />
<line x1="380.90" y1="308.95" x2="380.90" y2="311.15" stroke="#555" stroke-width="0.8" />
<line x1="384.25" y1="308.95" x2="384.25" y2="312.05" stroke="#555" stroke-width="0.8" />
<line x1="387.60" y1="308.95" x2="387.60" y2="311.15" stroke="#555" stroke-width="0.8" />
<line x1="390.95" y1="308.95" x2="390.95" y2="311.15" stroke="#555" stroke-width="0.8" />
<line x1="394.30" y1="308.95" x2="394.30" y2="311.15" stroke="#555" stroke-width="0.8" />
<line x1="397.65" y1="308.95" x2="397.65" y2="311.15" stroke="#555" stroke-width="0.8" />
<line x1="401.00" y1="308.95" x2="401.00" y2="311.15" stroke="#555" stroke-width="0.8" />
<line x1="404.35" y1="308.95" x2="404.35" y2="311.15" stroke="#555" stroke-width="0.8" />
<line x1="407.70" y1="308.95" x2="407.70" y2="311.15" stroke="#555" stroke-width="0.8" />
<line x1="411.05" y1="308.95" x2="411.05" y2="311.15" stroke="#555" stroke-width="0.8" />
<line x1="414.40" y1="308.95" x2="414.40" y2="311.15" stroke="#555" stroke-width="0.8" />
<line x1="417.75" y1="308.95" x2="417.75" y2="311.15" stroke="#555" stroke-width="0.8" />
<line x1="421.10" y1="308.95" x2="421.10" y2="311.15" stroke="#555" stroke-width="0.8" />
<line x1="424.45" y1="308.95" x2="424.45" y2="311.15" stroke="#555" stroke-width="0.8" />
<line x1="427.80" y1="308.95" x2="427.80" y2="311.15" stroke="#555" stroke-width="0.8" />
<line x1="431.15" y1="308.95" x2="431.15" y2="311.15" stroke="#555" stroke-width="0.8" />
<line x1="434.50" y1="308.95" x2="434.50" y2="311.15" stroke="#555" stroke-width="0.8" />
<line x1="437.85" y1="308.95" x2="437.85" y2="311.15" stroke="#555" stroke-width="0.8" />
<line x1="441.20" y1="308.95" x2="441.20" y2="311.15" stroke="#555" stroke-width="0.8" />
<line x1="444.55" y1="308.95" x2="444.55" y2="311.15" stroke="#555" stroke-width="0.8" />
<line x1="447.90" y1="308.95" x2="447.90" y2="311.15" stroke="#555" stroke-width="0.8" />
<line x1="451.25" y1="308.95" x2="451.25" y2="312.05" stroke="#555" stroke-width="0.8" />
<line x1="346.25" y1="309.85" x2="346.25" y2="311.85" stroke="#6a6a6a" stroke-width="0.8" />
<text x="346.25" y="315.30" font-family="'Liberation Sans', Arial, sans-serif" font-size="4.3" font-weight="bold" text-anchor="middle" fill="#333" >0</text>
<text x="384.25" y="315.30" font-family="'Liberation Sans', Arial, sans-serif" font-size="4.3" font-weight="bold" text-anchor="middle" fill="#333" >1</text>
<text x="417.50" y="315.30" font-family="'Liberation Sans', Arial, sans-serif" font-size="4.3" font-weight="bold" text-anchor="middle" fill="#333" >10</text>
<text x="451.25" y="315.30" font-family="'Liberation Sans', Arial, sans-serif" font-size="4.3" font-weight="bold" text-anchor="middle" fill="#333" >100</text>
<text x="398.25" y="321.40" font-family="'Liberation Sans', Arial, sans-serif" font-size="5.0" font-weight="bold" text-anchor="middle" fill="#333" >Conc (uM)</text>
<text transform="translate(335.60,259.30) rotate(-90)" x="0" y="0" font-family="'Liberation Sans', Arial, sans-serif" font-size="5.0" font-weight="bold" text-anchor="middle" fill="#333">% Live Cells</text>
<text transform="translate(406.90,201.00) scale(1,1.12)" font-family="'Liberation Serif', serif" font-size="8.85" font-weight="bold" text-anchor="middle" fill="#000" stroke="#000" stroke-width="0.12" >FOLFOX</text>
<text x="351.25" y="303.90" font-family="'Liberation Sans', Arial, sans-serif" font-size="9.0" font-weight="normal" text-anchor="start" fill="#222" >p&lt;0.01</text>
<line x1="346.25" y1="231.25" x2="346.25" y2="216.25" stroke="#e48a72" stroke-width="0.8" />
<line x1="344.95" y1="216.25" x2="347.55" y2="216.25" stroke="#e48a72" stroke-width="0.8" />
<line x1="373.75" y1="228.60" x2="373.75" y2="215.10" stroke="#e48a72" stroke-width="0.8" />
<line x1="372.45" y1="215.10" x2="375.05" y2="215.10" stroke="#e48a72" stroke-width="0.8" />
<line x1="407.00" y1="253.30" x2="407.00" y2="246.70" stroke="#e48a72" stroke-width="0.8" />
<line x1="405.70" y1="246.70" x2="408.30" y2="246.70" stroke="#e48a72" stroke-width="0.8" />
<line x1="417.50" y1="262.20" x2="417.50" y2="254.20" stroke="#e48a72" stroke-width="0.8" />
<line x1="416.20" y1="254.20" x2="418.80" y2="254.20" stroke="#e48a72" stroke-width="0.8" />
<line x1="440.50" y1="259.25" x2="440.50" y2="257.05" stroke="#e48a72" stroke-width="0.8" />
<line x1="439.20" y1="257.05" x2="441.80" y2="257.05" stroke="#e48a72" stroke-width="0.8" />
<path d="M346.25,231.25 L356.05,230.31 M361.55,229.78 L373.75,228.60" fill="none" stroke="#e48a72" stroke-width="1.0"/>
<path d="M373.75,228.60 L384.00,244.40 L407.00,253.30 L417.50,262.20 L440.50,259.25" fill="none" stroke="#e48a72" stroke-width="1.0"/>
<circle cx="346.25" cy="231.25" r="1.3" fill="white" stroke="#e48a72" stroke-width="0.75"/>
<circle cx="373.75" cy="228.6" r="1.3" fill="white" stroke="#e48a72" stroke-width="0.75"/>
<circle cx="384" cy="244.4" r="1.3" fill="white" stroke="#e48a72" stroke-width="0.75"/>
<circle cx="407" cy="253.3" r="1.3" fill="white" stroke="#e48a72" stroke-width="0.75"/>
<circle cx="417.5" cy="262.2" r="1.3" fill="white" stroke="#e48a72" stroke-width="0.75"/>
<circle cx="440.5" cy="259.25" r="1.3" fill="white" stroke="#e48a72" stroke-width="0.75"/>
<line x1="384.00" y1="235.50" x2="384.00" y2="229.30" stroke="#3838d4" stroke-width="0.8" />
<line x1="382.70" y1="229.30" x2="385.30" y2="229.30" stroke="#3838d4" stroke-width="0.8" />
<line x1="384.00" y1="235.50" x2="384.00" y2="241.50" stroke="#3838d4" stroke-width="0.8" />
<line x1="382.70" y1="241.50" x2="385.30" y2="241.50" stroke="#3838d4" stroke-width="0.8" />
<line x1="417.50" y1="259.60" x2="417.50" y2="256.60" stroke="#3838d4" stroke-width="0.8" />
<line x1="416.20" y1="256.60" x2="418.80" y2="256.60" stroke="#3838d4" stroke-width="0.8" />
<path d="M346.25,233.25 L356.05,232.63 M361.55,232.28 L373.75,231.50" fill="none" stroke="#3838d4" stroke-width="1.0"/>
<path d="M373.75,231.50 L384.00,235.50 L407.00,258.40 L417.50,259.60 L440.50,272.50" fill="none" stroke="#3838d4" stroke-width="1.0"/>
<rect x="344.95" y="231.95" width="2.60" height="2.60" fill="white" stroke="#3838d4" stroke-width="0.75" />
<rect x="372.45" y="230.20" width="2.60" height="2.60" fill="white" stroke="#3838d4" stroke-width="0.75" />
<rect x="382.70" y="234.20" width="2.60" height="2.60" fill="white" stroke="#3838d4" stroke-width="0.75" />
<rect x="405.70" y="257.10" width="2.60" height="2.60" fill="white" stroke="#3838d4" stroke-width="0.75" />
<rect x="416.20" y="258.30" width="2.60" height="2.60" fill="white" stroke="#3838d4" stroke-width="0.75" />
<rect x="439.20" y="271.20" width="2.60" height="2.60" fill="white" stroke="#3838d4" stroke-width="0.75" />
<line x1="373.75" y1="262.30" x2="373.75" y2="268.60" stroke="#3e903e" stroke-width="0.8" />
<line x1="372.45" y1="268.60" x2="375.05" y2="268.60" stroke="#3e903e" stroke-width="0.8" />
<line x1="384.00" y1="282.40" x2="384.00" y2="288.10" stroke="#3e903e" stroke-width="0.8" />
<line x1="382.70" y1="288.10" x2="385.30" y2="288.10" stroke="#3e903e" stroke-width="0.8" />
<line x1="407.00" y1="285.00" x2="407.00" y2="288.20" stroke="#3e903e" stroke-width="0.8" />
<line x1="405.70" y1="288.20" x2="408.30" y2="288.20" stroke="#3e903e" stroke-width="0.8" />
<path d="M346.25,225.00 L356.05,238.29 M361.55,245.75 L373.75,262.30" fill="none" stroke="#3e903e" stroke-width="1.0"/>
<path d="M373.75,262.30 L384.00,282.40 L407.00,285.00 L417.50,286.30 L440.50,298.25" fill="none" stroke="#3e903e" stroke-width="1.0"/>
<rect x="345.25" y="224.00" width="2.00" height="2.00" fill="#3e903e" stroke="none" stroke-width="1" />
<rect x="372.75" y="261.30" width="2.00" height="2.00" fill="#3e903e" stroke="none" stroke-width="1" />
<rect x="383.00" y="281.40" width="2.00" height="2.00" fill="#3e903e" stroke="none" stroke-width="1" />
<rect x="406.00" y="284.00" width="2.00" height="2.00" fill="#3e903e" stroke="none" stroke-width="1" />
<rect x="416.50" y="285.30" width="2.00" height="2.00" fill="#3e903e" stroke="none" stroke-width="1" />
<rect x="439.50" y="297.25" width="2.00" height="2.00" fill="#3e903e" stroke="none" stroke-width="1" />
<line x1="373.75" y1="243.20" x2="373.75" y2="248.90" stroke="#5c2a8a" stroke-width="0.8" />
<line x1="372.45" y1="248.90" x2="375.05" y2="248.90" stroke="#5c2a8a" stroke-width="0.8" />
<line x1="384.00" y1="265.80" x2="384.00" y2="263.80" stroke="#5c2a8a" stroke-width="0.8" />
<line x1="382.70" y1="263.80" x2="385.30" y2="263.80" stroke="#5c2a8a" stroke-width="0.8" />
<line x1="384.00" y1="265.80" x2="384.00" y2="267.80" stroke="#5c2a8a" stroke-width="0.8" />
<line x1="382.70" y1="267.80" x2="385.30" y2="267.80" stroke="#5c2a8a" stroke-width="0.8" />
<path d="M346.25,233.75 L356.05,237.12 M361.55,239.01 L373.75,243.20" fill="none" stroke="#5c2a8a" stroke-width="1.0"/>
<path d="M373.75,243.20 L384.00,265.80 L407.00,282.40 L417.50,286.30 L440.50,289.25" fill="none" stroke="#5c2a8a" stroke-width="1.0"/>
<rect x="345.25" y="232.75" width="2.00" height="2.00" fill="#5c2a8a" stroke="none" stroke-width="1" />
<rect x="372.75" y="242.20" width="2.00" height="2.00" fill="#5c2a8a" stroke="none" stroke-width="1" />
<rect x="383.00" y="264.80" width="2.00" height="2.00" fill="#5c2a8a" stroke="none" stroke-width="1" />
<rect x="406.00" y="281.40" width="2.00" height="2.00" fill="#5c2a8a" stroke="none" stroke-width="1" />
<rect x="416.50" y="285.30" width="2.00" height="2.00" fill="#5c2a8a" stroke="none" stroke-width="1" />
<rect x="439.50" y="288.25" width="2.00" height="2.00" fill="#5c2a8a" stroke="none" stroke-width="1" />
<line x1="412.70" y1="211.20" x2="423.00" y2="211.20" stroke="#e48a72" stroke-width="1.4" />
<circle cx="417.8" cy="211.2" r="1.9" fill="white" stroke="#e48a72" stroke-width="1.1"/>
<text transform="translate(425.40,213.20) scale(1,1.08)" font-family="'Liberation Serif', serif" font-size="5.85" font-weight="normal" text-anchor="start" fill="#222" stroke="#222" stroke-width="0.08" >Patient 3 SMAD4 knockdown</text>
<line x1="412.70" y1="218.85" x2="423.00" y2="218.85" stroke="#3838d4" stroke-width="1.4" />
<rect x="415.90" y="216.95" width="3.80" height="3.80" fill="white" stroke="#3838d4" stroke-width="1.1" />
<text transform="translate(425.40,220.85) scale(1,1.08)" font-family="'Liberation Serif', serif" font-size="5.85" font-weight="normal" text-anchor="start" fill="#222" stroke="#222" stroke-width="0.08" >Patient 4 SMAD4 knockdown</text>
<line x1="412.70" y1="226.50" x2="423.00" y2="226.50" stroke="#3e903e" stroke-width="1.4" />
<circle cx="417.8" cy="226.5" r="1.5" fill="#3e903e"/>
<text transform="translate(425.40,228.50) scale(1,1.08)" font-family="'Liberation Serif', serif" font-size="5.85" font-weight="normal" text-anchor="start" fill="#222" stroke="#222" stroke-width="0.08" >Patient 3 control</text>
<line x1="412.70" y1="234.15" x2="423.00" y2="234.15" stroke="#5c2a8a" stroke-width="1.4" />
<rect x="416.30" y="232.65" width="3.00" height="3.00" fill="#5c2a8a" stroke="none" stroke-width="1" />
<text transform="translate(425.40,236.15) scale(1,1.08)" font-family="'Liberation Serif', serif" font-size="5.85" font-weight="normal" text-anchor="start" fill="#222" stroke="#222" stroke-width="0.08" >Patient 4 control</text>
<text transform="translate(27.66,351.60) scale(0.920,1)" font-family="'Liberation Sans', Arial, sans-serif" font-size="13.00" font-weight="bold" fill="#000">F</text>
<text transform="translate(39.20,352.10) scale(1,0.98)" font-family="'Liberation Serif', serif" font-size="8.94" font-weight="bold" fill="#000" stroke="#000" stroke-width="0.15">SMAD4 restored</text>
<text x="45.50" y="378.80" font-family="'Liberation Serif', serif" font-size="9.0" font-weight="normal" text-anchor="start" fill="#111" stroke="#111" stroke-width="0.15" >SW480</text>
<text x="80.50" y="378.80" font-family="'Liberation Serif', serif" font-size="9.0" font-weight="normal" text-anchor="start" fill="#111" stroke="#111" stroke-width="0.15" >SW480</text>
<text x="107.40" y="375.40" font-family="'Liberation Serif', serif" font-size="6.7" font-weight="normal" text-anchor="start" fill="#111" stroke="#111" stroke-width="0.2" >SMAD4</text>
<text x="7.50" y="402.50" font-family="'Liberation Serif', serif" font-size="8.85" font-weight="normal" text-anchor="start" fill="#111" stroke="#111" stroke-width="0.15" >SMAD4</text>
<text x="17.00" y="434.30" font-family="'Liberation Serif', serif" font-size="9.0" font-weight="normal" text-anchor="start" fill="#111" stroke="#111" stroke-width="0.15" >Actin</text>
<rect x="43.90" y="385.50" width="65.30" height="25.60" fill="#ababab" stroke="none" stroke-width="1" />
<rect x="43.90" y="417.70" width="65.30" height="32.30" fill="#b7b7b7" stroke="none" stroke-width="1" />
<rect x="76.80" y="396.40" width="25.20" height="3.60" rx="5.04" ry="1.80" fill="#000" opacity="1" filter="url(#b1)"/>
<path d="M46.4,432.6 Q46.8,429.2 53,429.2 L69,429.6 Q74.8,429.8 74.6,433 Q73.8,437.4 62,437.9 Q50,438.2 47.4,436.4 Q46.2,434.8 46.4,432.6 Z" fill="#000" filter="url(#b1)"/>
<path d="M80.3,432.6 Q80.4,429.3 85.5,429.2 L100,429.2 Q105.2,429.4 104.9,432.8 Q103.8,438.9 92.5,439.2 Q82,439 80.3,432.6 Z" fill="#000" filter="url(#b1)"/>
<text transform="translate(184.92,352.20) scale(0.920,1)" font-family="'Liberation Sans', Arial, sans-serif" font-size="13.00" font-weight="bold" fill="#000">G</text>
<text transform="translate(199.20,352.60) scale(1,1.1)" font-family="'Liberation Serif', serif" font-size="10.23" font-weight="bold" fill="#000" stroke="#000" stroke-width="0.15">Treatment with 5-FU or FOLFOX</text>
<line x1="237.00" y1="369.25" x2="237.00" y2="455.50" stroke="#222" stroke-width="1.1" />
<line x1="237.00" y1="455.50" x2="321.00" y2="455.50" stroke="#222" stroke-width="1.1" />
<line x1="234.50" y1="455.50" x2="237.00" y2="455.50" stroke="#222" stroke-width="1" />
<text x="233.50" y="457.70" font-family="'Liberation Sans', Arial, sans-serif" font-size="6.0" font-weight="normal" text-anchor="end" fill="#222" stroke="#222" stroke-width="0.12" >0</text>
<line x1="234.50" y1="426.75" x2="237.00" y2="426.75" stroke="#222" stroke-width="1" />
<text x="233.50" y="428.95" font-family="'Liberation Sans', Arial, sans-serif" font-size="6.0" font-weight="normal" text-anchor="end" fill="#222" stroke="#222" stroke-width="0.12" >50</text>
<line x1="234.50" y1="398.00" x2="237.00" y2="398.00" stroke="#222" stroke-width="1" />
<text x="233.50" y="400.20" font-family="'Liberation Sans', Arial, sans-serif" font-size="6.0" font-weight="normal" text-anchor="end" fill="#222" stroke="#222" stroke-width="0.12" >100</text>
<line x1="234.50" y1="369.25" x2="237.00" y2="369.25" stroke="#222" stroke-width="1" />
<text x="233.50" y="371.45" font-family="'Liberation Sans', Arial, sans-serif" font-size="6.0" font-weight="normal" text-anchor="end" fill="#222" stroke="#222" stroke-width="0.12" >150</text>
<text transform="translate(218.40,412.25) rotate(-90)" x="0" y="0" font-family="'Liberation Sans', Arial, sans-serif" font-size="6.9" font-weight="bold" text-anchor="middle" fill="#222" stroke="#222" stroke-width="0.08">% viable cells</text>
<rect x="240.60" y="398.00" width="6.70" height="57.50" fill="#000" stroke="none" stroke-width="1" />
<line x1="243.95" y1="398.00" x2="243.95" y2="397.54" stroke="#000" stroke-width="1.1" />
<line x1="242.35" y1="397.54" x2="245.55" y2="397.54" stroke="#000" stroke-width="1.1" />
<rect x="247.80" y="399.73" width="7.30" height="55.77" fill="#ee3427" stroke="none" stroke-width="1" />
<line x1="251.45" y1="399.73" x2="251.45" y2="399.04" stroke="#ee3427" stroke-width="1.1" />
<line x1="249.85" y1="399.04" x2="253.05" y2="399.04" stroke="#ee3427" stroke-width="1.1" />
<line x1="247.55" y1="455.50" x2="247.55" y2="457.70" stroke="#222" stroke-width="0.9" />
<text x="247.40" y="465.40" font-family="'Liberation Sans', Arial, sans-serif" font-size="5.6" font-weight="bold" text-anchor="middle" fill="#222" stroke="#222" stroke-width="0.1" >0x</text>
<rect x="262.60" y="396.27" width="6.70" height="59.23" fill="#000" stroke="none" stroke-width="1" />
<line x1="265.95" y1="396.27" x2="265.95" y2="393.97" stroke="#000" stroke-width="1.1" />
<line x1="264.35" y1="393.97" x2="267.55" y2="393.97" stroke="#000" stroke-width="1.1" />
<rect x="269.80" y="403.18" width="7.30" height="52.32" fill="#ee3427" stroke="none" stroke-width="1" />
<line x1="273.45" y1="403.18" x2="273.45" y2="402.31" stroke="#ee3427" stroke-width="1.1" />
<line x1="271.85" y1="402.31" x2="275.05" y2="402.31" stroke="#ee3427" stroke-width="1.1" />
<line x1="269.55" y1="455.50" x2="269.55" y2="457.70" stroke="#222" stroke-width="0.9" />
<text x="269.40" y="465.40" font-family="'Liberation Sans', Arial, sans-serif" font-size="5.6" font-weight="bold" text-anchor="middle" fill="#222" stroke="#222" stroke-width="0.1" >1x</text>
<rect x="283.80" y="411.23" width="6.70" height="44.27" fill="#000" stroke="none" stroke-width="1" />
<line x1="287.15" y1="411.23" x2="287.15" y2="410.88" stroke="#000" stroke-width="1.1" />
<line x1="285.55" y1="410.88" x2="288.75" y2="410.88" stroke="#000" stroke-width="1.1" />
<rect x="291.00" y="416.40" width="7.30" height="39.10" fill="#ee3427" stroke="none" stroke-width="1" />
<line x1="294.65" y1="416.40" x2="294.65" y2="416.05" stroke="#ee3427" stroke-width="1.1" />
<line x1="293.05" y1="416.05" x2="296.25" y2="416.05" stroke="#ee3427" stroke-width="1.1" />
<line x1="290.75" y1="455.50" x2="290.75" y2="457.70" stroke="#222" stroke-width="0.9" />
<text x="290.60" y="465.40" font-family="'Liberation Sans', Arial, sans-serif" font-size="5.6" font-weight="bold" text-anchor="middle" fill="#222" stroke="#222" stroke-width="0.1" >2x</text>
<rect x="305.80" y="427.32" width="6.70" height="28.18" fill="#000" stroke="none" stroke-width="1" />
<line x1="309.15" y1="427.32" x2="309.15" y2="422.72" stroke="#000" stroke-width="1.1" />
<line x1="307.55" y1="422.72" x2="310.75" y2="422.72" stroke="#000" stroke-width="1.1" />
<rect x="313.00" y="438.25" width="7.30" height="17.25" fill="#ee3427" stroke="none" stroke-width="1" />
<line x1="316.65" y1="438.25" x2="316.65" y2="431.93" stroke="#ee3427" stroke-width="1.1" />
<line x1="315.05" y1="431.93" x2="318.25" y2="431.93" stroke="#ee3427" stroke-width="1.1" />
<line x1="312.75" y1="455.50" x2="312.75" y2="457.70" stroke="#222" stroke-width="0.9" />
<text x="312.60" y="465.40" font-family="'Liberation Sans', Arial, sans-serif" font-size="5.6" font-weight="bold" text-anchor="middle" fill="#222" stroke="#222" stroke-width="0.1" >4x</text>
<text x="272.30" y="475.80" font-family="'Liberation Sans', Arial, sans-serif" font-size="5.5" font-weight="bold" text-anchor="middle" fill="#222" stroke="#222" stroke-width="0.1" >Treatment Concentration</text>
<path d="M310,416.8 V412.5 H316.3 V416.8" fill="none" stroke="#000" stroke-width="1.0"/>
<text x="310.55" y="413.30" font-family="'Liberation Sans', Arial, sans-serif" font-size="10.5" font-weight="bold" text-anchor="middle" fill="#111" >*</text>
<text x="315.75" y="413.30" font-family="'Liberation Sans', Arial, sans-serif" font-size="10.5" font-weight="bold" text-anchor="middle" fill="#111" >*</text>
<line x1="430.70" y1="370.50" x2="430.70" y2="456.40" stroke="#222" stroke-width="1.1" />
<line x1="430.70" y1="456.40" x2="517.50" y2="456.40" stroke="#222" stroke-width="1.1" />
<line x1="428.20" y1="456.40" x2="430.70" y2="456.40" stroke="#222" stroke-width="1" />
<text x="427.20" y="458.60" font-family="'Liberation Sans', Arial, sans-serif" font-size="6.0" font-weight="normal" text-anchor="end" fill="#222" stroke="#222" stroke-width="0.12" >0</text>
<line x1="428.20" y1="427.77" x2="430.70" y2="427.77" stroke="#222" stroke-width="1" />
<text x="427.20" y="429.97" font-family="'Liberation Sans', Arial, sans-serif" font-size="6.0" font-weight="normal" text-anchor="end" fill="#222" stroke="#222" stroke-width="0.12" >50</text>
<line x1="428.20" y1="399.13" x2="430.70" y2="399.13" stroke="#222" stroke-width="1" />
<text x="427.20" y="401.33" font-family="'Liberation Sans', Arial, sans-serif" font-size="6.0" font-weight="normal" text-anchor="end" fill="#222" stroke="#222" stroke-width="0.12" >100</text>
<line x1="428.20" y1="370.50" x2="430.70" y2="370.50" stroke="#222" stroke-width="1" />
<text x="427.20" y="372.70" font-family="'Liberation Sans', Arial, sans-serif" font-size="6.0" font-weight="normal" text-anchor="end" fill="#222" stroke="#222" stroke-width="0.12" >150</text>
<text transform="translate(411.90,413.75) rotate(-90)" x="0" y="0" font-family="'Liberation Sans', Arial, sans-serif" font-size="6.9" font-weight="bold" text-anchor="middle" fill="#222" stroke="#222" stroke-width="0.08">% viable cells</text>
<rect x="434.50" y="399.13" width="6.70" height="57.27" fill="#000" stroke="none" stroke-width="1" />
<line x1="437.85" y1="399.13" x2="437.85" y2="398.68" stroke="#000" stroke-width="1.1" />
<line x1="436.25" y1="398.68" x2="439.45" y2="398.68" stroke="#000" stroke-width="1.1" />
<rect x="441.70" y="399.71" width="7.30" height="56.69" fill="#ee3427" stroke="none" stroke-width="1" />
<line x1="445.35" y1="399.71" x2="445.35" y2="399.25" stroke="#ee3427" stroke-width="1.1" />
<line x1="443.75" y1="399.25" x2="446.95" y2="399.25" stroke="#ee3427" stroke-width="1.1" />
<line x1="441.45" y1="456.40" x2="441.45" y2="458.60" stroke="#222" stroke-width="0.9" />
<text x="441.30" y="465.40" font-family="'Liberation Sans', Arial, sans-serif" font-size="5.6" font-weight="bold" text-anchor="middle" fill="#222" stroke="#222" stroke-width="0.1" >0x</text>
<rect x="457.00" y="396.27" width="6.70" height="60.13" fill="#000" stroke="none" stroke-width="1" />
<line x1="460.35" y1="396.27" x2="460.35" y2="393.41" stroke="#000" stroke-width="1.1" />
<line x1="458.75" y1="393.41" x2="461.95" y2="393.41" stroke="#000" stroke-width="1.1" />
<rect x="464.20" y="434.07" width="7.30" height="22.33" fill="#ee3427" stroke="none" stroke-width="1" />
<line x1="467.85" y1="434.07" x2="467.85" y2="433.61" stroke="#ee3427" stroke-width="1.1" />
<line x1="466.25" y1="433.61" x2="469.45" y2="433.61" stroke="#ee3427" stroke-width="1.1" />
<line x1="463.95" y1="456.40" x2="463.95" y2="458.60" stroke="#222" stroke-width="0.9" />
<text x="463.80" y="465.40" font-family="'Liberation Sans', Arial, sans-serif" font-size="5.6" font-weight="bold" text-anchor="middle" fill="#222" stroke="#222" stroke-width="0.1" >1x</text>
<rect x="478.80" y="412.30" width="6.70" height="44.10" fill="#000" stroke="none" stroke-width="1" />
<line x1="482.15" y1="412.30" x2="482.15" y2="411.85" stroke="#000" stroke-width="1.1" />
<line x1="480.55" y1="411.85" x2="483.75" y2="411.85" stroke="#000" stroke-width="1.1" />
<rect x="486.00" y="446.66" width="7.30" height="9.74" fill="#ee3427" stroke="none" stroke-width="1" />
<line x1="489.65" y1="446.66" x2="489.65" y2="446.21" stroke="#ee3427" stroke-width="1.1" />
<line x1="488.05" y1="446.21" x2="491.25" y2="446.21" stroke="#ee3427" stroke-width="1.1" />
<line x1="485.75" y1="456.40" x2="485.75" y2="458.60" stroke="#222" stroke-width="0.9" />
<text x="485.60" y="465.40" font-family="'Liberation Sans', Arial, sans-serif" font-size="5.6" font-weight="bold" text-anchor="middle" fill="#222" stroke="#222" stroke-width="0.1" >2x</text>
<rect x="500.50" y="439.22" width="6.70" height="17.18" fill="#000" stroke="none" stroke-width="1" />
<line x1="503.85" y1="439.22" x2="503.85" y2="438.76" stroke="#000" stroke-width="1.1" />
<line x1="502.25" y1="438.76" x2="505.45" y2="438.76" stroke="#000" stroke-width="1.1" />
<rect x="507.70" y="449.24" width="7.30" height="7.16" fill="#ee3427" stroke="none" stroke-width="1" />
<line x1="511.35" y1="449.24" x2="511.35" y2="448.78" stroke="#ee3427" stroke-width="1.1" />
<line x1="509.75" y1="448.78" x2="512.95" y2="448.78" stroke="#ee3427" stroke-width="1.1" />
<line x1="507.45" y1="456.40" x2="507.45" y2="458.60" stroke="#222" stroke-width="0.9" />
<text x="507.30" y="465.40" font-family="'Liberation Sans', Arial, sans-serif" font-size="5.6" font-weight="bold" text-anchor="middle" fill="#222" stroke="#222" stroke-width="0.1" >4x</text>
<text x="467.80" y="475.80" font-family="'Liberation Sans', Arial, sans-serif" font-size="5.5" font-weight="bold" text-anchor="middle" fill="#222" stroke="#222" stroke-width="0.1" >Treatment Concentration</text>
<path d="M436.3,387 V384.3 H446.3 V387" fill="none" stroke="#000" stroke-width="1.0"/>
<text x="441.30" y="380.50" font-family="'Liberation Sans', Arial, sans-serif" font-size="7.8" font-weight="normal" text-anchor="middle" fill="#111" >ns</text>
<path d="M460.5,388 V385.5 H468.3 V427.5" fill="none" stroke="#000" stroke-width="1.0"/>
<text x="461.80" y="383.80" font-family="'Liberation Sans', Arial, sans-serif" font-size="10.5" font-weight="bold" text-anchor="middle" fill="#111" >*</text>
<text x="467.00" y="383.80" font-family="'Liberation Sans', Arial, sans-serif" font-size="10.5" font-weight="bold" text-anchor="middle" fill="#111" >*</text>
<path d="M481.8,407 V403.8 H490.5 V445" fill="none" stroke="#000" stroke-width="1.0"/>
<text x="483.55" y="400.80" font-family="'Liberation Sans', Arial, sans-serif" font-size="10.5" font-weight="bold" text-anchor="middle" fill="#111" >*</text>
<text x="488.75" y="400.80" font-family="'Liberation Sans', Arial, sans-serif" font-size="10.5" font-weight="bold" text-anchor="middle" fill="#111" >*</text>
<path d="M504.5,438.8 V435 H512.5 V447" fill="none" stroke="#000" stroke-width="1.0"/>
<text x="508.50" y="435.30" font-family="'Liberation Sans', Arial, sans-serif" font-size="10.5" font-weight="bold" text-anchor="middle" fill="#111" >*</text>
<rect x="289.50" y="366.80" width="8.60" height="8.80" fill="#000" stroke="none" stroke-width="1" />
<rect x="289.50" y="380.00" width="8.60" height="8.80" fill="#ee3427" stroke="none" stroke-width="1" />
<text transform="translate(307.50,373.30) scale(1,1.08)" font-family="'Liberation Sans', Arial, sans-serif" font-size="7.38" font-weight="normal" text-anchor="start" fill="#222" stroke="#222" stroke-width="0.14" >SW480 SMAD4 mutant</text>
<text transform="translate(307.50,386.50) scale(1,1.08)" font-family="'Liberation Sans', Arial, sans-serif" font-size="7.35" font-weight="normal" text-anchor="start" fill="#222" stroke="#222" stroke-width="0.14" >SW480 SMAD4 restored</text>
<text x="189.60" y="418.70" font-family="'Liberation Sans', Arial, sans-serif" font-size="8.1" font-weight="bold" text-anchor="start" fill="#111" stroke="#111" stroke-width="0.1" >5-FU</text>
<text x="368.70" y="418.70" font-family="'Liberation Sans', Arial, sans-serif" font-size="7.4" font-weight="bold" text-anchor="start" fill="#111" >FOLFOX</text>
<text x="347.00" y="442.80" font-family="'Liberation Sans', Arial, sans-serif" font-size="9.5" font-weight="bold" text-anchor="middle" fill="#111" >*</text>
<text transform="translate(355.50,440.30) scale(1,1.08)" font-family="'Liberation Sans', Arial, sans-serif" font-size="5.9" font-weight="normal" text-anchor="start" fill="#222" stroke="#222" stroke-width="0.1" >P &lt; 0.05</text>
<text x="344.60" y="453.50" font-family="'Liberation Sans', Arial, sans-serif" font-size="9.5" font-weight="bold" text-anchor="middle" fill="#111" >*</text>
<text x="351.20" y="453.50" font-family="'Liberation Sans', Arial, sans-serif" font-size="9.5" font-weight="bold" text-anchor="middle" fill="#111" >*</text>
<text transform="translate(355.50,450.30) scale(1,1.08)" font-family="'Liberation Sans', Arial, sans-serif" font-size="5.9" font-weight="normal" text-anchor="start" fill="#222" stroke="#222" stroke-width="0.1" >P &lt; 0.01</text></svg>
</body></html>
